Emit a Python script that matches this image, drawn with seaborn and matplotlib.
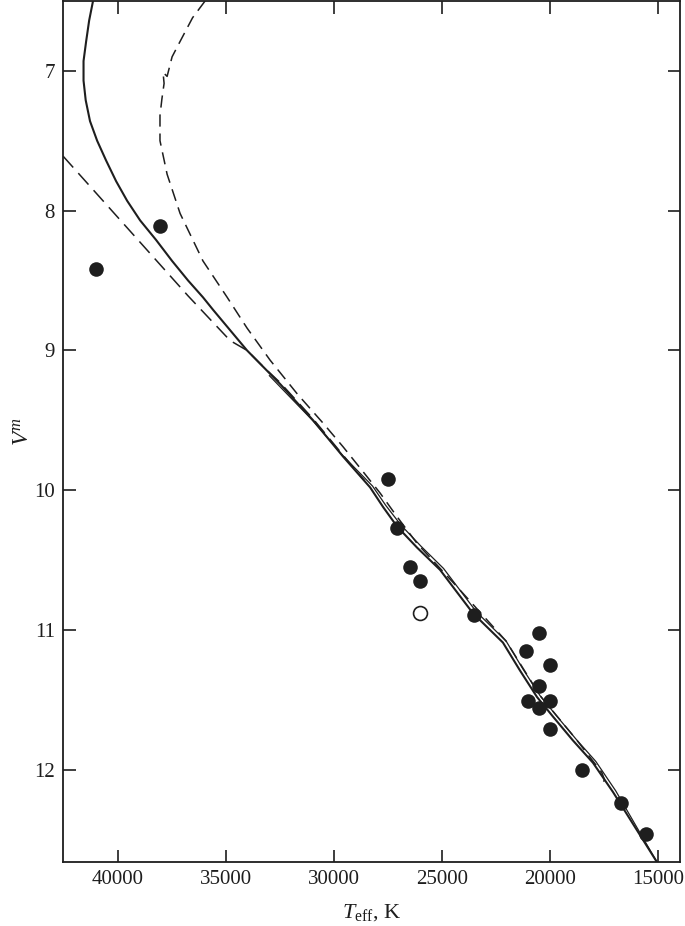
import matplotlib
matplotlib.use("Agg")
import matplotlib.pyplot as plt
import seaborn as sns
import pandas as pd

# Stars (filled) and one open circle
star_teff = [41000, 38050, 27500, 27100, 26500, 26000, 23500, 20500, 21100, 20000,
             20500, 21000, 20500, 20000, 20000, 18500, 16700, 15550]
star_v = [8.42, 8.11, 9.92, 10.27, 10.55, 10.65, 10.89, 11.02, 11.15, 11.25,
          11.40, 11.51, 11.56, 11.51, 11.71, 12.00, 12.24, 12.46]
open_teff = [26000]
open_v = [10.88]

# Main solid isochrone
solid_teff = [41160, 41340, 41480, 41600, 41600, 41500, 41300, 40970, 40560, 40090,
              39580, 38980, 38240, 37500, 36760, 36070, 35600, 34030, 32500, 30970,
              29580, 28330, 27730, 27080, 26160, 25090, 23570, 22180, 21390, 20600,
              19860, 18940, 18010, 17080, 15050]
solid_v = [6.50, 6.64, 6.79, 6.93, 7.07, 7.21, 7.36, 7.50, 7.64, 7.79,
           7.93, 8.07, 8.21, 8.36, 8.50, 8.62, 8.71, 9.00, 9.24, 9.50,
           9.76, 9.98, 10.12, 10.26, 10.41, 10.57, 10.88, 11.09, 11.29, 11.48,
           11.62, 11.79, 11.95, 12.16, 12.66]

# Thin solid companion (lower part)
thin_teff = [33000, 31000, 29550, 28220, 27600, 26900, 25980, 24930, 23410, 22030,
             21250, 20460, 19720, 18800, 17880, 16960, 15050]
thin_v = [9.18, 9.50, 9.76, 9.97, 10.11, 10.25, 10.40, 10.56, 10.87, 11.08,
          11.28, 11.47, 11.61, 11.78, 11.94, 12.15, 12.66]

# Long-dashed track
long_teff = [42550, 36760, 34810, 34030, 33190, 32500, 30970, 29580, 28600]
long_v = [7.61, 8.61, 8.93, 9.00, 9.13, 9.23, 9.49, 9.75, 9.93]

# Short-dashed track
short_teff = [35970, 36550, 37130, 37500, 37730, 37920, 37870, 37970, 38060, 38060,
              37730, 37130, 36070, 34950, 34030, 32960, 31710, 30510, 29580, 28800,
              27870, 27080, 26160, 24310, 22030, 20460, 18800, 17600, 17480, 17550]
short_v = [6.50, 6.62, 6.79, 6.90, 7.04, 7.01, 7.09, 7.20, 7.32, 7.50,
           7.74, 8.02, 8.36, 8.62, 8.84, 9.07, 9.31, 9.52, 9.69, 9.84,
           10.02, 10.19, 10.38, 10.69, 11.08, 11.47, 11.78, 12.02, 12.07, 12.10]

x_ticks = [40000, 35000, 30000, 25000, 20000, 15000]
x_ticklabels = ["40000", "35000", "30000", "25000", "20000", "15000"]
y_ticks = [7, 8, 9, 10, 11, 12]

sns.set_theme(style="ticks")
plt.rcParams["font.family"] = ["Liberation Serif", "DejaVu Serif"]
plt.rcParams["mathtext.fontset"] = "custom"
plt.rcParams["mathtext.rm"] = "Liberation Serif"
plt.rcParams["mathtext.it"] = "Liberation Serif:italic"

ink = "#1e1e1e"
fig = plt.figure(figsize=(6.85, 9.26), dpi=100)
ax = fig.add_axes([0.092, 0.0691, 0.9007, 0.9299])

sns.lineplot(x=solid_teff, y=solid_v, sort=False, estimator=None, color=ink, lw=1.5, ax=ax)
sns.lineplot(x=thin_teff, y=thin_v, sort=False, estimator=None, color=ink, lw=0.9, ax=ax)
sns.lineplot(x=long_teff, y=long_v, sort=False, estimator=None, color=ink, lw=1.1,
             linestyle=(0, (10, 5)), ax=ax)
sns.lineplot(x=short_teff, y=short_v, sort=False, estimator=None, color=ink, lw=1.1,
             linestyle=(0, (8, 4.5)), ax=ax)

sns.scatterplot(x=star_teff, y=star_v, s=110, color=ink, edgecolor=ink, linewidth=0, ax=ax, zorder=5)
sns.scatterplot(x=open_teff, y=open_v, s=100, facecolor="white", edgecolor=ink, linewidth=1.2, ax=ax, zorder=5)

ax.set_xlim(42550, 13980)
ax.set_ylim(12.66, 6.5)
ax.set_xticks(x_ticks)
ax.set_xticklabels(x_ticklabels)
ax.set_yticks(y_ticks)
ax.tick_params(direction="in", length=9, width=1.2, top=True, right=True,
               labelsize=15, colors=ink, pad=6)
for sp in ax.spines.values():
    sp.set_linewidth(1.3)
    sp.set_color(ink)

ax.set_xlabel(r"$T_{\mathrm{eff}}$, K", fontsize=16, color=ink, labelpad=9)
ax.set_ylabel(r"$V^m$", fontsize=17, color=ink, labelpad=0)

fig.savefig("out.png", dpi=100)
